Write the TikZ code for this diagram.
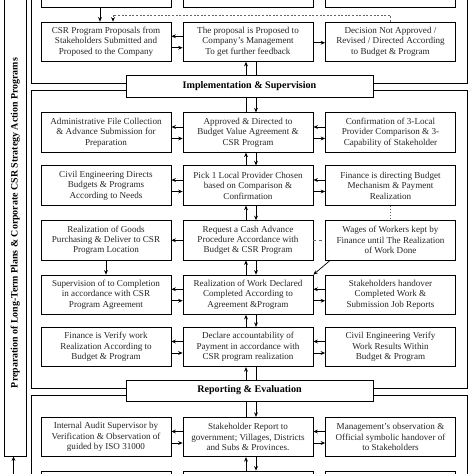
\documentclass[tikz,border=0pt]{standalone}
\usepackage{fontspec}
\setmainfont{Liberation Serif}
\usetikzlibrary{arrows.meta,calc}
\begin{document}
\begin{tikzpicture}[x=1pt,y=-1pt,
  bx/.style={draw, line width=0.7pt, minimum width=130pt, minimum height=39.5pt, align=center, inner sep=1pt, font=\fontsize{9.1}{10.4}\selectfont, text=black!85},
  hdr/.style={draw, fill=white, line width=0.8pt, minimum width=247pt, minimum height=22pt, inner sep=0pt, font=\fontsize{10.1}{11}\selectfont\bfseries},
  arr/.style={-{Stealth[length=4.5pt,width=3.8pt]}, line width=0.7pt},
  frm/.style={line width=0.8pt},
  dsh/.style={draw=black!60, line width=0.6pt, dash pattern=on 2pt off 1.6pt},
]
\useasboundingbox (0,0) rectangle (474,474);
\clip (0,0) rectangle (474,474);

% section frames
\draw[frm] (31,-10) rectangle (467,83);
\draw[frm] (31,90) rectangle (467,388);
\draw[frm] (31,395) rectangle (467,520);

% left vertical box
\node[draw, line width=0.8pt, minimum width=21.5pt, minimum height=466pt, inner sep=0pt] (lbox) at (15.25,223)
  {\rotatebox{90}{\fontsize{9.9}{11}\selectfont\bfseries Preparation of Long-Term Plans \& Corporate CSR Strategy Action Programs}};

% row 0 (cut off)
\node[bx] (l0) at (106,-12) {~\\~\\line with Mainstreaming};
\node[bx] (m0) at (248,-12) {~\\~\\by Companies \& Stakeholders};
\node[bx] (r0) at (390.5,-12) {~\\~\\Submitted to the Company};

% row 1
\node[bx] (l1) at (106,41.75) {CSR Program Proposals from\\Stakeholders Submitted and\\Proposed to the Company};
\node[bx] (m1) at (248,41.75) {The proposal is Proposed to\\Company’s Management\\To get further feedback};
\node[bx] (r1) at (390.5,41.75) {Decision Not Approved /\\Revised / Directed According\\to Budget \& Program};

% row 2
\node[bx] (l2) at (106,132.5) {Administrative File Collection\\\& Advance Submission for\\Preparation};
\node[bx] (m2) at (248,132.5) {Approved \& Directed to\\Budget Value Agreement \&\\CSR Program};
\node[bx] (r2) at (390.5,132.5) {Confirmation of 3-Local\\Provider Comparison \& 3-\\Capability of Stakeholder};

% row 3
\node[bx] (l3) at (106,185.5) {Civil Engineering Directs\\Budgets \& Programs\\According to Needs};
\node[bx] (m3) at (248,185.5) {Pick 1 Local Provider Chosen\\based on Comparison \&\\Confirmation};
\node[bx] (r3) at (390.5,185.5) {Finance is directing Budget\\Mechanism \& Payment\\Realization};

% row 4
\node[bx] (l4) at (106,240.25) {Realization of Goods\\Purchasing \& Deliver to CSR\\Program Location};
\node[bx] (m4) at (248,240.25) {Request a Cash Advance\\Procedure Accordance with\\Budget \& CSR Program};
\node[bx] (r4) at (390.5,240.25) {Wages of Workers kept by\\Finance until The Realization\\of Work Done};

% row 5
\node[bx] (l5) at (106,294.75) {Supervision of to Completion\\in accordance with CSR\\Program Agreement};
\node[bx] (m5) at (248,294.75) {Realization of Work Declared\\Completed According to\\Agreement \&Program};
\node[bx] (r5) at (390.5,294.75) {Stakeholders handover\\Completed Work \&\\Submission Job Reports};

% row 6
\node[bx] (l6) at (106,347) {Finance is Verify work\\Realization According to\\Budget \& Program};
\node[bx] (m6) at (248,347) {Declare accountability of\\Payment in accordance with\\CSR program realization};
\node[bx] (r6) at (390.5,347) {Civil Engineering Verify\\Work Results Within\\Budget \& Program};

% row 7
\node[bx] (l7) at (106,437) {Internal Audit Supervisor by\\Verification \& Observation of\\guided by ISO 31000};
\node[bx] (m7) at (248,437) {Stakeholder Report to\\government; Villages, Districts\\and Subs \& Provinces.};
\node[bx] (r7) at (390.5,437) {Management's observation \&\\Official symbolic handover of\\to Stakeholders};

% row 8 (cut off)
\node[bx] (l8) at (106,490.75) {};
\node[bx] (m8) at (248,490.75) {};
\node[bx] (r8) at (390.5,490.75) {};

% horizontal arrow pairs
\foreach \a/\b in {l1/m1,l2/m2,l3/m3,l5/m5,l6/m6,l7/m7,m2/r2,m3/r3,m5/r5,m6/r6,m7/r7}{
  \draw[arr] ([yshift=5.5pt]\b.west) -- ([yshift=5.5pt]\a.east);
  \draw[arr] ([yshift=-6pt]\a.east) -- ([yshift=-6pt]\b.west);
}
\draw[arr] ([yshift=-1pt]m1.east) -- ([yshift=-1pt]r1.west);
\draw[arr] (m4.west) -- (l4.east);

% vertical arrow pairs in the middle column
\foreach \a/\b in {m1/m2,m2/m3,m3/m4,m4/m5,m5/m6,m6/m7,m7/m8}{
  \draw[arr] ([xshift=8pt]\a.south) -- ([xshift=8pt]\b.north);
  \draw[arr] ([xshift=-2pt]\b.north) -- ([xshift=-2pt]\a.south);
}

% left column arrows
\draw[arr] ([xshift=-6pt]l0.south) -- ([xshift=-6pt]l1.north);
\draw[arr] (l4.south) -- (l5.north);

% dashed feedback
\coordinate (d1) at (113,15);
\draw[dsh, -{Stealth[length=4.5pt,width=3.8pt,color=black]}] (r1.north) |- (d1) -- (d1 |- l1.north);
\draw[dsh, dash pattern=on 1.5pt off 1.5pt] (r3.south) -- (r4.north);
\draw[dsh, dash pattern=on 3pt off 3pt] (m4.east) -- (r4.west);
\draw[arr] ([xshift=5pt]r4.south west) -- (m5.north east);

% arrow into the left box
\coordinate (lb) at (13.5,480);
\draw[arr] (lb) -- (lb |- lbox.south);

% section headers
\node[hdr] (imp) at (249.5,86) {Implementation \& Supervision};
\node[hdr, minimum height=21pt] (rep) at (249.5,390.5) {Reporting \& Evaluation};
\end{tikzpicture}
\end{document}
